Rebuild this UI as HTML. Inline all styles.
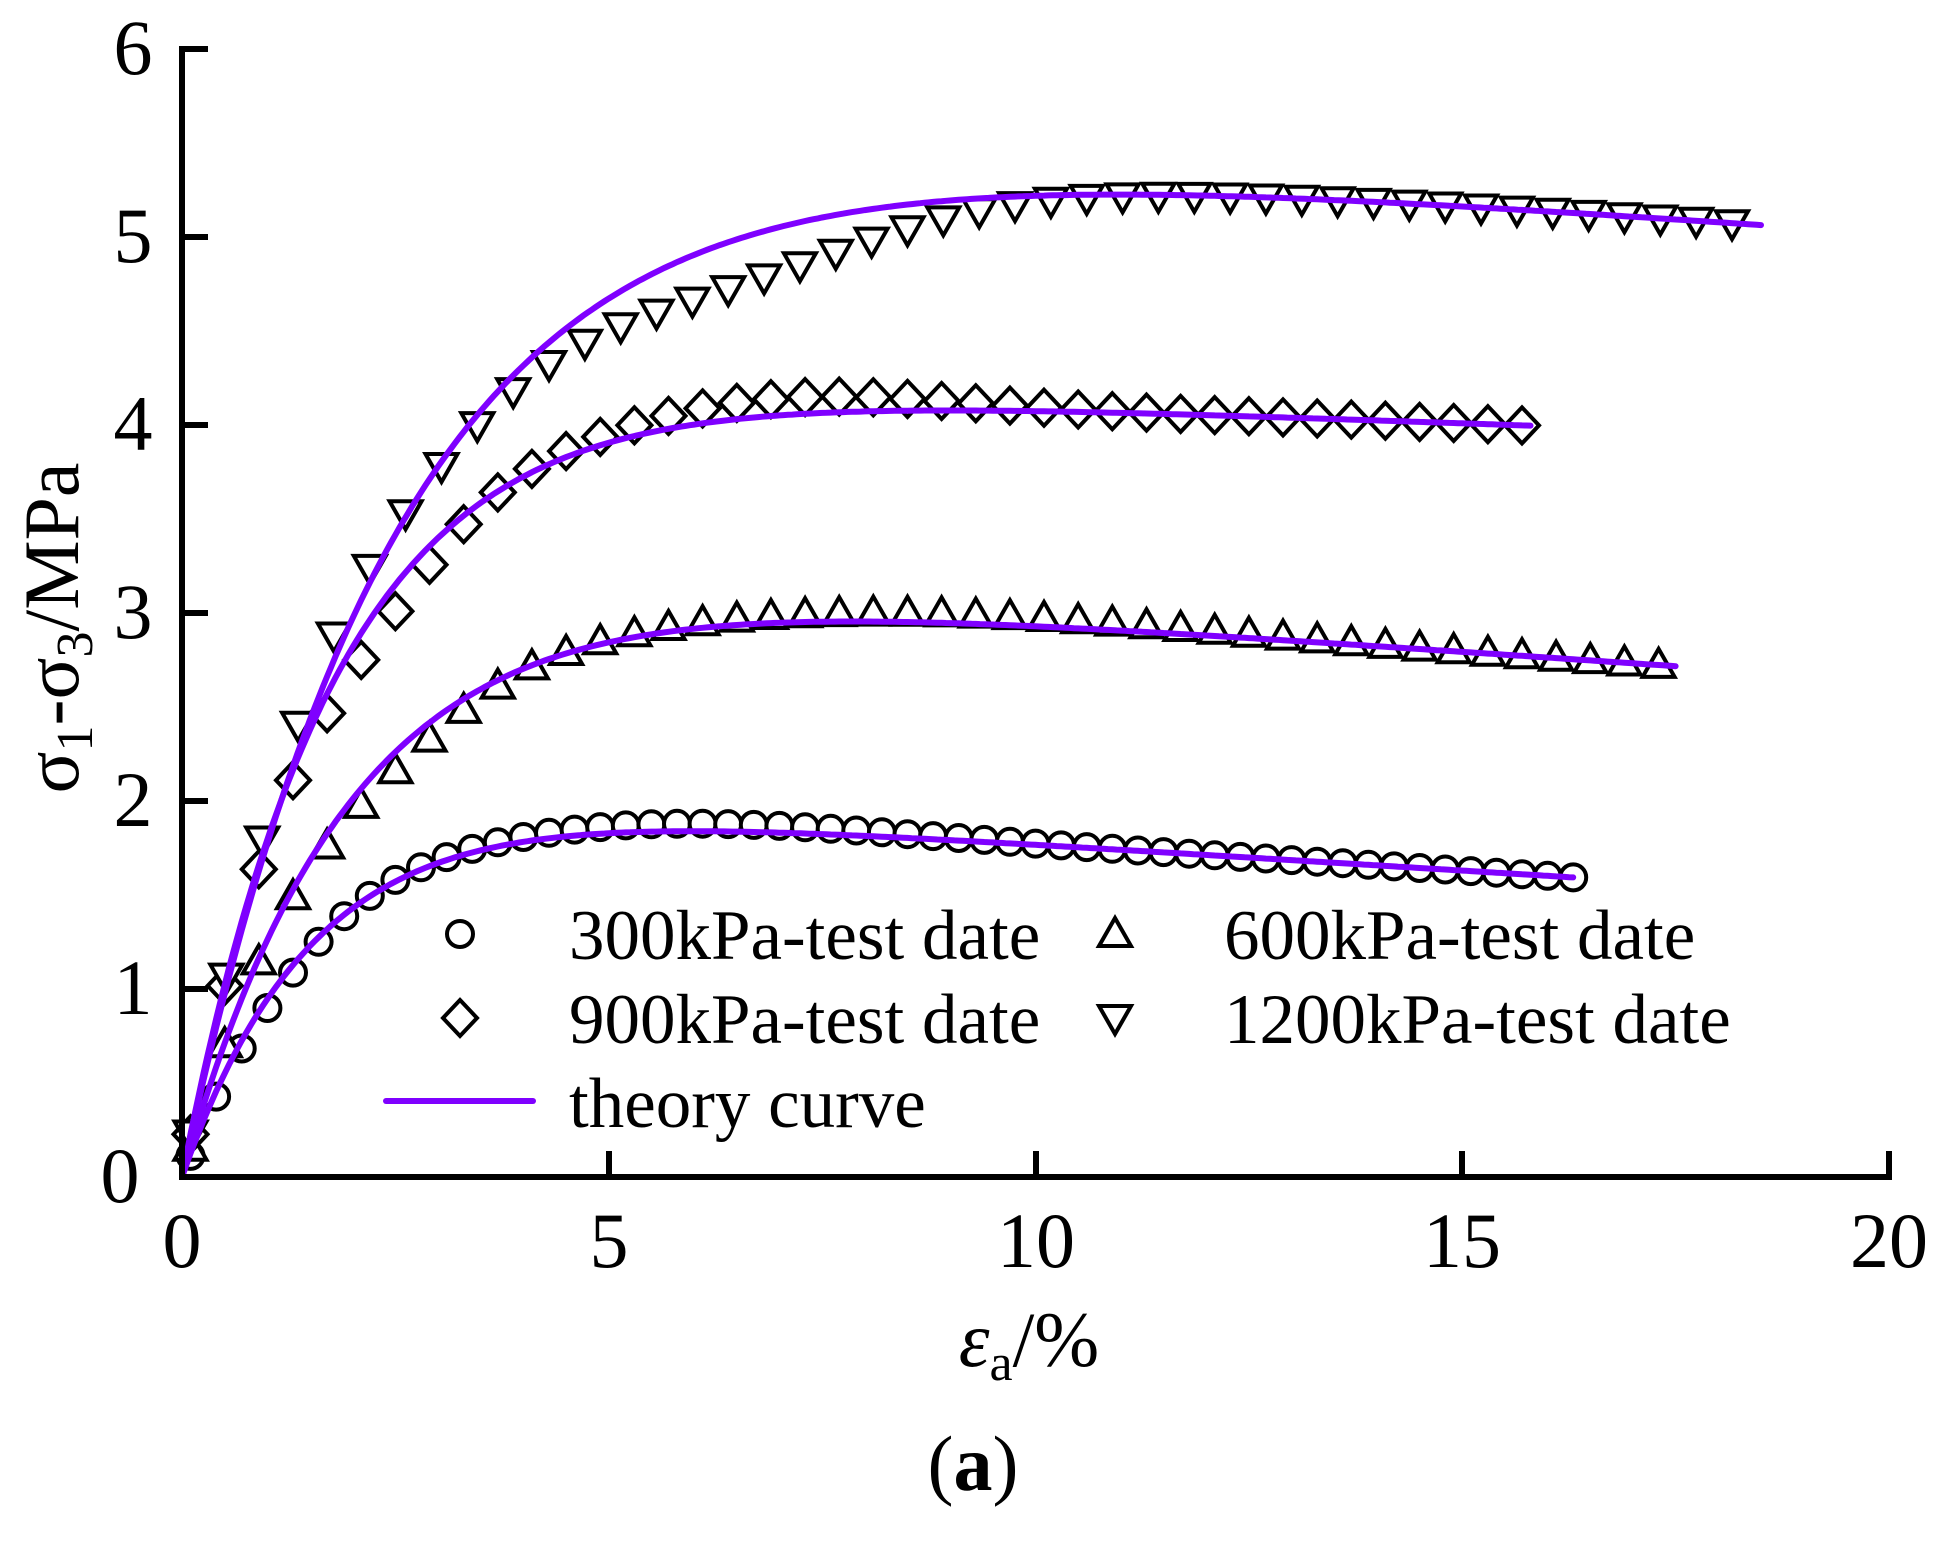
<!DOCTYPE html>
<html><head><meta charset="utf-8"><style>
html,body{margin:0;padding:0;background:#fff;}
svg{display:block;font-family:"Liberation Serif",serif;}
</style></head><body>
<svg id="s" width="1949" height="1542" viewBox="0 0 1949 1542" xmlns="http://www.w3.org/2000/svg">
<g id="data"></g>
<g id="curves" fill="none" stroke="#7F00FF" stroke-width="6" stroke-linecap="round"></g>
<g stroke="#000" stroke-width="6" fill="none">
<path d="M182,46 V1177 H1889 V1151"/>
<path d="M182,49 H208 M182,237 H208 M182,425 H208 M182,613 H208 M182,801 H208 M182,989 H208"/>
<path d="M609,1177 V1151 M1036,1177 V1151 M1462,1177 V1151"/>
</g>
<g font-size="78" text-anchor="middle" fill="#000">
<text x="133" y="74">6</text><text x="133" y="262">5</text><text x="133" y="450">4</text>
<text x="133" y="638">3</text><text x="133" y="826">2</text><text x="133" y="1014">1</text>
<text x="120" y="1202">0</text>
<text x="182" y="1267">0</text><text x="609" y="1267">5</text><text x="1036" y="1267">10</text>
<text x="1462" y="1267">15</text><text x="1889" y="1267">20</text>
</g>
<text transform="translate(78,628) rotate(-90)" font-size="78" text-anchor="middle">σ<tspan font-size="52" dy="14">1</tspan><tspan dy="-14">-σ</tspan><tspan font-size="52" dy="14">3</tspan><tspan dy="-14">/MPa</tspan></text>
<text x="1029" y="1366" font-size="78" text-anchor="middle"><tspan font-style="italic">ε</tspan><tspan font-size="52" dy="14">a</tspan><tspan dy="-14">/%</tspan></text>
<text x="973" y="1490" font-size="78" text-anchor="middle">(<tspan font-weight="bold">a</tspan>)</text>
<g font-size="71" fill="#000">
<text x="569" y="959">300kPa-test date</text>
<text x="569" y="1043">900kPa-test date</text>
<text x="569" y="1127">theory curve</text>
<text x="1224" y="959">600kPa-test date</text>
<text x="1224" y="1043">1200kPa-test date</text>
</g>
<g id="leg" stroke="#000" stroke-width="4" fill="none"></g>
<line x1="386" y1="1101" x2="533" y2="1101" stroke="#7F00FF" stroke-width="6" stroke-linecap="round"/>
</svg>
<script>
var X=function(x){return 182+85.35*x}, Y=function(y){return 1177-188*y};
function g(x,c,w){return Math.exp(-Math.pow((x-c)/w,2));}
var ser=[
 {A:2.05,k:1.55,s:0.028,end:16.3,m:'c',step:0.3,d:function(x){return 0.04*g(x,6,3)-0.05*g(x,1,0.8)}},
 {A:3.26,k:1.98,s:0.031,end:17.5,m:'t',step:0.4,d:function(x){return 0.05*g(x,9,4)-0.1*g(x,2.5,1.2)}},
 {A:4.25,k:1.8,s:0.016,end:15.8,m:'d',step:0.4,d:function(x){return 0.09*g(x,7,2.5)-0.15*g(x,2.3,1)}},
 {A:5.66,k:2.6,s:0.032,end:18.5,m:'v',step:0.42,d:function(x){return -0.25*g(x,6.5,2.5)+0.15*g(x,1.5,1)}}
];
function f(o,x){return o.A*(1-Math.exp(-x/o.k))-o.s*x;}
function mk(t,cx,cy){
 cx=+cx;cy=+cy;
 if(t=='c')return '<circle cx="'+cx+'" cy="'+cy+'" r="13"/>';
 if(t=='d')return '<path d="M'+cx+','+(cy-18)+' L'+(cx+17)+','+cy+' L'+cx+','+(cy+18)+' L'+(cx-17)+','+cy+'Z"/>';
 if(t=='t')return '<path d="M'+cx+','+(cy-16)+' L'+(cx+16)+','+(cy+12)+' L'+(cx-16)+','+(cy+12)+'Z"/>';
 return '<path d="M'+cx+','+(cy+16)+' L'+(cx+16)+','+(cy-12)+' L'+(cx-16)+','+(cy-12)+'Z"/>';
}
var cs='',ds='';
ser.forEach(function(o){
 var p=[];for(var x=0;x<=o.end+1e-6;x+=0.05)p.push(X(x).toFixed(1)+','+Y(f(o,x)).toFixed(1));
 cs+='<polyline points="'+p.join(' ')+'"/>';
 for(var x=0.1;x<=o.end+0.01;x+=o.step){
  ds+=mk(o.m,X(x).toFixed(1),Y(Math.max(0,f(o,x)+o.d(x))).toFixed(1));
 }
});
document.getElementById('curves').innerHTML=cs;
document.getElementById('data').innerHTML='<g stroke="#000" stroke-width="4" fill="#fff">'+ds+'</g>';
document.getElementById('leg').innerHTML=mk('c',460,934)+mk('d',460,1018)+mk('t',1115,934)+mk('v',1115,1018);
</script>
</body></html>
